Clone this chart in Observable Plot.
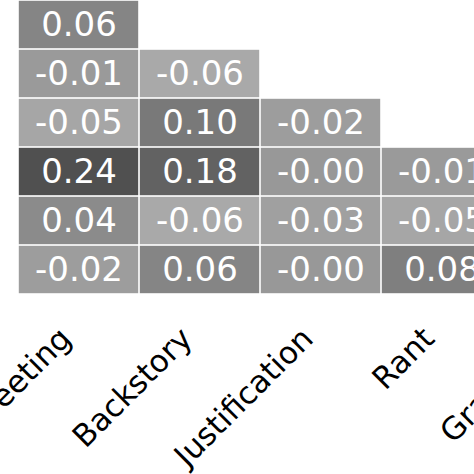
<!DOCTYPE html>
<html>
<head>
<meta charset="utf-8">
<script src="https://cdn.jsdelivr.net/npm/d3@7"></script>
<script src="https://cdn.jsdelivr.net/npm/@observablehq/plot@0.6"></script>
<style>
  html, body { margin: 0; padding: 0; background: #fff; overflow: hidden; width: 474px; height: 474px; }
  svg { overflow: hidden; }
</style>
</head>
<body>
<div id="chart"></div>
<script>
// Columns (x categories) and rows (y categories) of the lower-triangle matrix
const columns = ["Greeting", "Backstory", "Justification", "Rant", "Gratitude"];
const rows = ["Backstory", "Justification", "Rant", "Gratitude", "Category 6", "Category 7"];
// Values per row, one per visible column (row i holds columns 0..i)
const rowBackstory = [0.06];
const rowJustification = [-0.01, -0.06];
const rowRant = [-0.05, 0.10, -0.02];
const rowGratitude = [0.24, 0.18, -0.004, -0.01];
const rowCat6 = [0.04, -0.06, -0.03, -0.05];
const rowCat7 = [-0.02, 0.06, -0.004, 0.08];
const rowValues = [rowBackstory, rowJustification, rowRant, rowGratitude, rowCat6, rowCat7];

const table = [];
rowValues.forEach((vals, i) => vals.forEach((v, j) => table.push({row: rows[i], col: columns[j], value: v})));
const fmt = v => (v < 0 ? "-" : "") + Math.abs(v).toFixed(2);

const step = 121.1;
const x0 = 17.45;
const plot = Plot.plot({
  width: 474,
  height: 474,
  marginLeft: 0,
  marginRight: 0,
  marginTop: 0,
  marginBottom: 178,
  style: {fontFamily: "DejaVu Sans", background: "white", overflow: "hidden"},
  x: {type: "band", domain: columns, range: [x0, x0 + step * columns.length], padding: 0, label: null},
  y: {type: "band", domain: rows, range: [-0.9, 295.5], padding: 0, axis: null, label: null},
  color: {type: "linear", scheme: "greys", domain: [-0.48, 0.48]},
  marks: [
    Plot.cell(table, {x: "col", y: "row", fill: "value", inset: 0.8}),
    Plot.text(table, {x: "col", y: "row", text: d => fmt(d.value), fill: "white", fontSize: 34}),
    Plot.axisX({anchor: "bottom", tickSize: 0, tickRotate: -45, fontSize: 31, fill: "black", tickPadding: 37, dx: -13, label: null})
  ]
});
document.getElementById("chart").appendChild(plot);
</script>
</body>
</html>
